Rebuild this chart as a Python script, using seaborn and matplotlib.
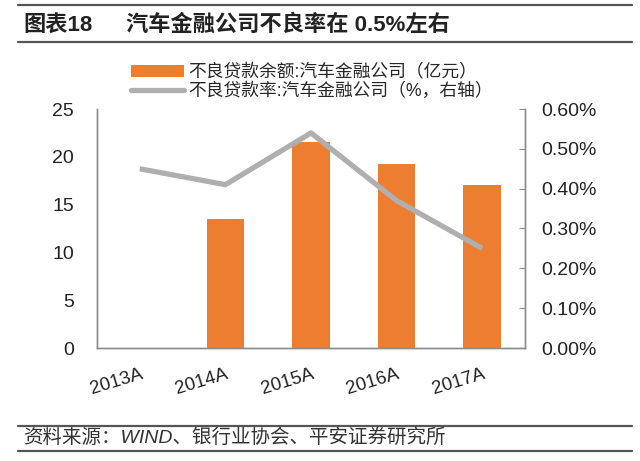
import matplotlib
matplotlib.use('Agg')
import matplotlib.pyplot as plt
from matplotlib.lines import Line2D
from matplotlib.patches import Patch
import numpy as np
import pandas as pd
import seaborn as sns

# data
years = ['2013A', '2014A', '2015A', '2016A', '2017A']
npl_balance = [0, 13.5, 21.5, 19.2, 17.1]          # 亿元
npl_ratio = [0.45, 0.41, 0.54, 0.37, 0.25]         # %

orange = '#ED7D31'
gray = '#AFAFAF'

sns.set_style('white')
plt.rcParams['font.family'] = ['Liberation Sans', 'Noto Sans CJK SC', 'DejaVu Sans']

df = pd.DataFrame({'year': years, 'bal': npl_balance, 'ratio': npl_ratio})

fig = plt.figure(figsize=(6.4, 4.61), dpi=100)
ax = fig.add_axes([97 / 640, 1 - 348 / 461, 428 / 640, 239 / 461])

sns.barplot(data=df, x='year', y='bal', color=orange, width=0.44,
            linewidth=0, saturation=1, ax=ax)
ax.set_ylim(0, 25)
ax.set_xlim(-0.5, 4.5)
ax.set_yticks(range(0, 26, 5))
ax.set_xlabel('')
ax.set_ylabel('')

ax2 = ax.twinx()
sns.lineplot(x=np.arange(len(years)), y=npl_ratio, color=gray, lw=3.8,
             ax=ax2, solid_capstyle='butt')
ax2.set_ylim(0, 0.6)
ax2.set_yticks(np.arange(0, 0.61, 0.1))
ax2.set_yticklabels([f'{v:.2f}%' for v in np.arange(0, 0.61, 0.1)])
ax2.set_xlim(-0.5, 4.5)

for a in (ax, ax2):
    for s in a.spines.values():
        s.set_color('#8C8C8C')
        s.set_linewidth(1.0)
    a.spines['top'].set_visible(False)

ax.tick_params(axis='y', length=0, labelsize=14, pad=16.5, labelcolor='#222222')
ax2.tick_params(axis='y', direction='in', length=4, color='#8C8C8C',
                labelsize=14, pad=12, labelcolor='#222222')

# category boundary ticks on the x axis
ax.set_xticks(np.arange(-0.5, 5, 1), minor=True)
ax.tick_params(axis='x', which='minor', direction='in', length=4, color='#8C8C8C')
ax.tick_params(axis='x', which='major', length=0, labelsize=13.5, pad=13,
               labelcolor='#222222')
for lab in ax.get_xticklabels():
    lab.set_rotation(17)
    lab.set_ha('right')
    lab.set_va('top')
    lab.set_rotation_mode('anchor')

# legend
handles = [Patch(facecolor=orange, edgecolor='none'),
           Line2D([], [], color=gray, lw=3.8)]
labels = ['不良贷款余额:汽车金融公司（亿元）', '不良贷款率:汽车金融公司（%，右轴）']
fig.legend(handles, labels, loc='upper left', bbox_to_anchor=(131 / 640, 1 - 64 / 461),
           frameon=False, fontsize=12.8, handlelength=3.0, handleheight=0.7,
           handletextpad=0.2, labelspacing=0.1, borderpad=0, borderaxespad=0)

# title and footer
fig.text(23 / 640, 1 - 25 / 461, '图表18', fontsize=16, fontweight='bold',
         va='center', color='#222222')
fig.text(126 / 640, 1 - 25 / 461, '汽车金融公司不良率在 0.5%左右', fontsize=16,
         fontweight='bold', va='center', color='#222222')
fig.text(23 / 640, 1 - 438 / 461, '资料来源：WIND、银行业协会、平安证券研究所',
         fontsize=14, va='center', color='#333333', style='italic')
for yy in (5.5, 42, 426, 451):
    fig.add_artist(Line2D([18 / 640, 632 / 640], [1 - yy / 461] * 2,
                          color='#555555', lw=1.6))

fig.savefig('out.png', dpi=100)
